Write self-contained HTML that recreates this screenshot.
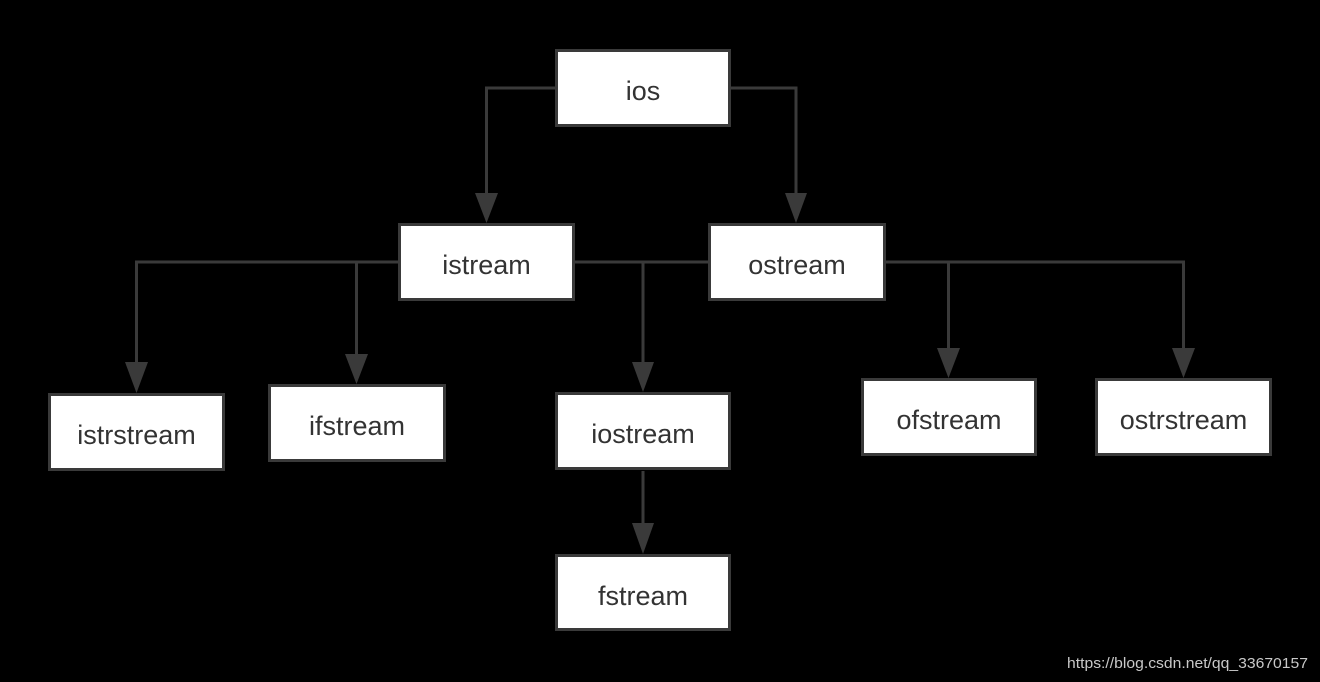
<!DOCTYPE html>
<html>
<head>
<meta charset="utf-8">
<style>
html,body{margin:0;padding:0;background:#000;}
svg{display:block;}
text{font-family:"Liberation Sans",Arial,sans-serif;}
</style>
</head>
<body>
<svg width="1320" height="682" viewBox="0 0 1320 682" xmlns="http://www.w3.org/2000/svg">
<rect x="0" y="0" width="1320" height="682" fill="#000"/>
<g fill="none" stroke="#3a3a3a" stroke-width="3">
  <path d="M555 88 H486.5 V195"/>
  <path d="M731 88 H796 V195"/>
  <path d="M398 262 H136.5 V364"/>
  <path d="M356.5 262 V356"/>
  <path d="M575 262 H708"/>
  <path d="M643 262 V364"/>
  <path d="M886 262 H1183.5 V350"/>
  <path d="M948.5 262 V350"/>
  <path d="M643 471 V525"/>
</g>
<g fill="#3a3a3a">
  <polygon points="475,193 498,193 486.5,223"/>
  <polygon points="785,193 807,193 796,223"/>
  <polygon points="125,362 148,362 136.5,393"/>
  <polygon points="345,354 368,354 356.5,384"/>
  <polygon points="632,362 654,362 643,392"/>
  <polygon points="937,348 960,348 948.5,378"/>
  <polygon points="1172,348 1195,348 1183.5,378"/>
  <polygon points="632,523 654,523 643,554"/>
</g>
<g fill="#fff" stroke="#3a3a3a" stroke-width="3">
  <rect x="556.5" y="50.5" width="173" height="75"/>
  <rect x="399.5" y="224.5" width="174" height="75"/>
  <rect x="709.5" y="224.5" width="175" height="75"/>
  <rect x="49.5" y="394.5" width="174" height="75"/>
  <rect x="269.5" y="385.5" width="175" height="75"/>
  <rect x="556.5" y="393.5" width="173" height="75"/>
  <rect x="556.5" y="555.5" width="173" height="74"/>
  <rect x="862.5" y="379.5" width="173" height="75"/>
  <rect x="1096.5" y="379.5" width="174" height="75"/>
</g>
<g fill="#333" font-size="27" text-anchor="middle">
  <text x="643" y="100">ios</text>
  <text x="486.5" y="274">istream</text>
  <text x="797" y="274">ostream</text>
  <text x="136.5" y="444">istrstream</text>
  <text x="357" y="435">ifstream</text>
  <text x="643" y="443">iostream</text>
  <text x="643" y="605">fstream</text>
  <text x="949" y="429">ofstream</text>
  <text x="1183.5" y="429">ostrstream</text>
</g>
<text x="1067" y="668" font-size="15" fill="#c8c8c8" textLength="241" lengthAdjust="spacingAndGlyphs">https://blog.csdn.net/qq_33670157</text>
</svg>
</body>
</html>
